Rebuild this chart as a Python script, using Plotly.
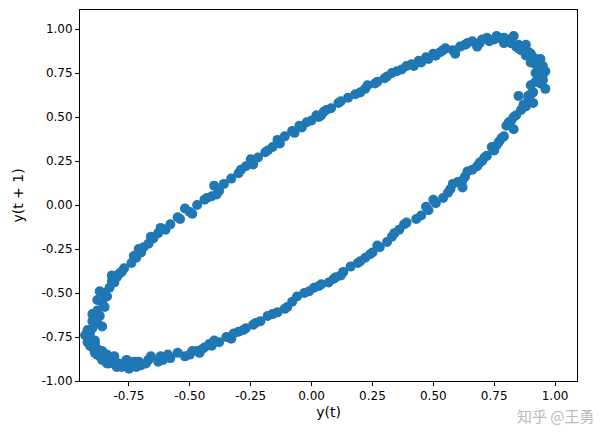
import plotly.graph_objects as go

# series values (y(t) sequence, amplitude ~0.9 with noise)
series = [
    0.02, 0.51, 0.85, 0.91, 0.64, 0.19, -0.33, -0.76, -0.88, -0.82, -0.40,
    0.11, 0.58, 0.88, 0.85, 0.62, 0.10, -0.41, -0.80, -0.92, -0.71, -0.25,
    0.26, 0.69, 0.92, 0.80, 0.45, -0.06, -0.52, -0.86, -0.88, -0.60, -0.14,
    0.37, 0.77, 0.95, 0.74, 0.33, -0.18, -0.63, -0.89, -0.84, -0.52, -0.02,
    0.47, 0.84, 0.90, 0.68, 0.22, -0.30, -0.72, -0.92, -0.78, -0.38, 0.08,
    0.55, 0.89, 0.87, 0.57, 0.09, -0.42, -0.79, -0.90, -0.70, -0.27, 0.22,
    0.66, 0.93, 0.82, 0.48, -0.03, -0.50, -0.85, -0.87, -0.63, -0.16, 0.33,
    0.75, 0.94, 0.77, 0.36, -0.14, -0.61, -0.88, -0.85, -0.50, -0.04, 0.44,
    0.82, 0.92, 0.70, 0.25, -0.27, -0.70, -0.91, -0.80, -0.41, 0.05, 0.53,
    0.87, 0.89, 0.60, 0.13, -0.38, -0.78, -0.92, -0.72, -0.30, 0.18, 0.63,
    0.91, 0.84, 0.51, 0.01, -0.47, -0.83, -0.89, -0.65, -0.19, 0.30, 0.72,
    0.95, 0.79, 0.39, -0.10, -0.58, -0.87, -0.86, -0.55, -0.07, 0.41, 0.80,
    0.93, 0.72, 0.28, -0.24, -0.68, -0.90, -0.81, -0.44, 0.03, 0.50, 0.86,
    0.90, 0.63, 0.16, -0.35, -0.75, -0.93, -0.74, -0.33, 0.15, 0.61, 0.90,
    0.86, 0.54, 0.04, -0.45, -0.82, -0.88, -0.67, -0.22, 0.27, 0.70, 0.94,
    0.83, 0.43, -0.08, -0.55, -0.84, -0.85, -0.58, -0.11, 0.39, 0.79, 0.92,
    0.75, 0.31, -0.21, -0.66, -0.86, -0.83, -0.47, 0.00, 0.48, 0.83, 0.96,
    0.66, 0.20, -0.32, -0.73, -0.89, -0.77, -0.36, 0.12, 0.59, 0.86, 0.88,
    0.56, 0.07, -0.44, -0.81, -0.86, -0.69, -0.24, 0.23, 0.68, 0.90, 0.81,
    0.47, -0.01, -0.49, -0.83, -0.90, -0.62, -0.13, 0.35, 0.76, 0.96, 0.76,
    0.34, -0.16, -0.62, -0.86, -0.87, -0.49, -0.05, 0.45, 0.81, 0.94, 0.69,
    0.24, -0.28, -0.71, -0.89, -0.79, -0.39, 0.06, 0.54, 0.88, 0.91, 0.58,
    0.12, -0.40, -0.77, -0.91, -0.73, -0.29, 0.20, 0.64, 0.92, 0.83, 0.50,
    0.03, -0.46, -0.84, -0.90, -0.66, -0.18, 0.31, 0.73, 0.93, 0.78, 0.38,
    -0.11, -0.59, -0.85, -0.88, -0.54, -0.08, 0.42, 0.79, 0.95, 0.71, 0.27,
    -0.23, -0.67, -0.88, -0.82, -0.43, 0.04, 0.51, 0.85, 0.89, 0.62, 0.14,
]
x_ticks = [-0.75, -0.5, -0.25, 0.0, 0.25, 0.5, 0.75, 1.0]
y_ticks = [-1.0, -0.75, -0.5, -0.25, 0.0, 0.25, 0.5, 0.75, 1.0]

fig = go.Figure(go.Scatter(
    x=series[:-1], y=series[1:], mode="markers",
    marker=dict(color="#1f77b4", size=10),
))

axis = dict(showline=True, linecolor="black", mirror=True, ticks="outside",
            showgrid=False, zeroline=False, tickcolor="black", ticklen=4,
            automargin=False)
fig.update_layout(
    width=614, height=432, plot_bgcolor="white", paper_bgcolor="white",
    margin=dict(l=72, r=45, t=2, b=59),
    font=dict(family="DejaVu Sans", size=12, color="black"),
    showlegend=False,
    xaxis=dict(axis, range=[-0.951, 1.09], tickvals=x_ticks,
               ticktext=[f"{v:.2f}" for v in x_ticks],
               title=dict(text="y(t)", standoff=4)),
    yaxis=dict(axis, range=[-1.0, 1.108], tickvals=y_ticks,
               ticktext=[f"{v:.2f}" for v in y_ticks],
               title=dict(text="y(t + 1)", standoff=14)),
    annotations=[dict(text="知乎 @王勇", xref="paper", yref="paper", x=1.04, y=-0.06,
                      xanchor="right", yanchor="top", showarrow=False,
                      font=dict(family="Noto Sans CJK SC", size=15, color="#bbbbbb"))],
)
fig.write_html("out.html")
